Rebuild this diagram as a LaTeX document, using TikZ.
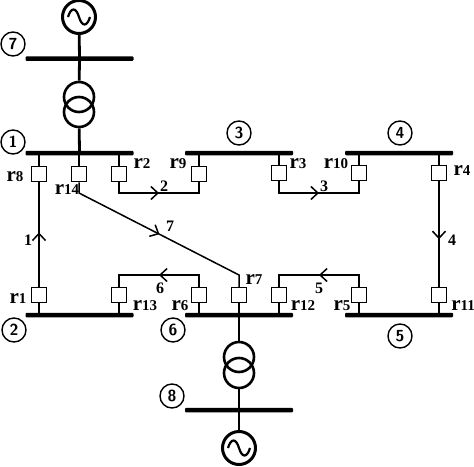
\documentclass[tikz,border=0pt]{standalone}
\usepackage{fontspec}
\setmainfont{Liberation Serif}
\usetikzlibrary{arrows.meta,decorations.markings}
\newcommand{\rlab}[1]{{\fontsize{21}{21}\selectfont\bfseries r}{\fontsize{15}{15}\selectfont\bfseries #1}}
\tikzset{
  bus/.style={draw=none,fill=black,minimum width=108pt,minimum height=4.5pt,inner sep=0pt,rounded corners=1pt},
  swbox/.style={draw=black,line width=1.5pt,fill=white,minimum size=15pt,inner sep=0pt},
  tag/.style={draw=black,circle,line width=1.4pt,minimum size=24pt,inner sep=0pt,font=\fontsize{16}{16}\selectfont\bfseries\sffamily},
  gen/.style={draw=black,circle,line width=3pt,minimum size=33pt,inner sep=0pt},
  coil/.style={draw=black,circle,line width=2.6pt,minimum size=30pt,inner sep=0pt},
  feed/.style={line width=2.8pt},
  stub/.style={line width=1.5pt},
  rname/.style={inner sep=0pt},
  num/.style={inner sep=0pt,font=\fontsize{16}{16}\selectfont\bfseries},
  wave/.style={line width=2.2pt},
  midarrow/.style={postaction={decorate},decoration={markings,mark=at position #1 with {\arrow[line width=1.5pt]{Straight Barb[length=7pt,width=13pt]}}}}
}
\begin{document}
\begin{tikzpicture}[x=1pt,y=-1pt]
\useasboundingbox (0,0) rectangle (474,466);
% buses
\node[bus] (b7) at (79.5,58.5) {};
\node[bus] (b1) at (79.5,153) {};
\node[bus] (b3) at (239,153) {};
\node[bus] (b4) at (399,153) {};
\node[bus] (b2) at (79.5,315) {};
\node[bus] (b6) at (239,315) {};
\node[bus] (b5) at (399,315) {};
\node[bus] (b8) at (239,410) {};
% generators and transformers
\node[gen] (g1) at (79,17) {};
\node[gen] (g2) at (239,448) {};
\node[coil] (t1a) at (79,97) {};
\node[coil] (t1b) at (79,112) {};
\node[coil] (t2a) at (239,357) {};
\node[coil] (t2b) at (239,373) {};
\foreach \g in {g1,g2}
  \draw[wave,shift={(\g.center)}] (-11,0) .. controls (-8,-10) and (-3,-10) .. (0,0) .. controls (3,10) and (8,10) .. (11,0);
\draw[feed] (g1) -- (b7.center) -- (t1a);
\draw[feed] (t1b) -- (b1.center);
\draw[feed] (b6.center) -- (t2a);
\draw[feed] (t2b) -- (b8.center) -- (g2);
% switch boxes
\foreach \nm/\x/\y in {s8/39/174,s14/79/174,s2/119/174,s9/199/174,s3/279/173,s10/359/173,s4/439/173,
  s1/39/295,s13/119/295,s6/199/295,s7/239/295,s12/279/295,s5/359/295,s11/439/295}
  \node[swbox] (\nm) at (\x,\y) {};
% stubs
\foreach \s/\b in {s8/b1,s14/b1,s2/b1,s9/b3,s3/b3,s10/b4,s4/b4,s1/b2,s13/b2,s6/b6,s7/b6,s12/b6,s5/b5,s11/b5}
  \draw[stub] (\s) -- (\s |- \b.center);
% lines
\coordinate (k14) at (79,193);
\coordinate (k7) at (239,275);
\coordinate (k2a) at (119,193);
\coordinate (k2b) at (199,193);
\coordinate (k3a) at (279,193);
\coordinate (k3b) at (359,193);
\coordinate (k6a) at (199,275);
\coordinate (k6b) at (119,275);
\coordinate (k5a) at (359,275);
\coordinate (k5b) at (279,275);
\draw[stub,midarrow=.52] (s1) -- (s8);
\draw[stub,midarrow=.5] (s2) -- (k2a) -- (k2b) -- (s9);
\draw[stub,midarrow=.5] (s3) -- (k3a) -- (k3b) -- (s10);
\draw[stub,midarrow=.55] (s4) -- (s11);
\draw[stub,midarrow=.5] (s5) -- (k5a) -- (k5b) -- (s12);
\draw[stub,midarrow=.5] (s6) -- (k6a) -- (k6b) -- (s13);
\draw[stub,midarrow=.5] (s14) -- (k14) -- (k7) -- (s7);
% bus tags
\node[tag] (n7) at (13,44) {7};
\node[tag] (n1) at (13,142) {1};
\node[tag] (n3) at (239,133) {3};
\node[tag] (n4) at (400,133) {4};
\node[tag] (n2) at (14,330) {2};
\node[tag] (n6) at (173,330) {6};
\node[tag] (n5) at (400,336) {5};
\node[tag] (n8) at (172,396) {8};
% r labels
\node[rname] (l8) at (15,177) {\rlab{8}};
\node[rname] (l14) at (67,190) {\rlab{14}};
\node[rname] (l2) at (142,164) {\rlab{2}};
\node[rname] (l9) at (178,164) {\rlab{9}};
\node[rname] (l3) at (298,164) {\rlab{3}};
\node[rname] (l10) at (336,164) {\rlab{10}};
\node[rname] (l4) at (462,171) {\rlab{4}};
\node[rname] (l1) at (18,299) {\rlab{1}};
\node[rname] (l13) at (145,306) {\rlab{13}};
\node[rname] (l6) at (180,306) {\rlab{6}};
\node[rname] (l7) at (254,280) {\rlab{7}};
\node[rname] (l12) at (303,306) {\rlab{12}};
\node[rname] (l5) at (342,306) {\rlab{5}};
\node[rname] (l11) at (463,306) {\rlab{11}};
% line numbers
\node[num] (m1) at (28,240) {1};
\node[num] (m2) at (164,186) {2};
\node[num] (m3) at (324,186) {3};
\node[num] (m4) at (452,240) {4};
\node[num] (m5) at (319,288) {5};
\node[num] (m6) at (160,288) {6};
\node[num] (m7) at (170,226) {7};
\end{tikzpicture}
\end{document}
